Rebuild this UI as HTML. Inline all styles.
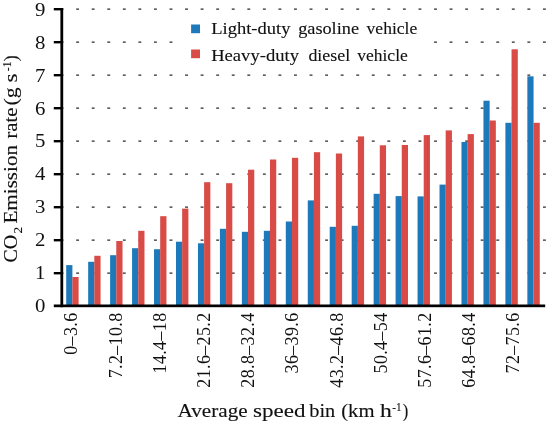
<!DOCTYPE html>
<html lang="en"><head><meta charset="utf-8"><title>CO2 emission rate by average speed bin</title>
<style>html,body{margin:0;padding:0;background:#fff}svg{display:block}text{font-family:"Liberation Serif",serif;fill:#111}.b text{stroke:#111;stroke-width:.12px}</style></head><body>
<svg width="550" height="428" viewBox="0 0 550 428">
<rect width="550" height="428" fill="#fff"/>
<g stroke="#2a2a2a" stroke-width="1.25" stroke-dasharray="2.9 12.66">
<line x1="60.6" y1="273.1" x2="546.5" y2="273.1"/>
<line x1="60.6" y1="240.1" x2="546.5" y2="240.1"/>
<line x1="60.6" y1="207.1" x2="546.5" y2="207.1"/>
<line x1="60.6" y1="174.1" x2="546.5" y2="174.1"/>
<line x1="60.6" y1="141.1" x2="546.5" y2="141.1"/>
<line x1="60.6" y1="108.1" x2="546.5" y2="108.1"/>
<line x1="60.6" y1="75.1" x2="546.5" y2="75.1"/>
<line x1="60.6" y1="42.1" x2="546.5" y2="42.1"/>
<line x1="60.6" y1="9.1" x2="546.5" y2="9.1"/>
</g>
<rect x="178" y="18" width="251" height="50" fill="#fff"/>
<g fill="#1d79b9">
<rect x="66.20" y="265.1" width="6.2" height="40.9"/>
<rect x="88.16" y="261.8" width="6.2" height="44.2"/>
<rect x="110.12" y="255.2" width="6.2" height="50.8"/>
<rect x="132.08" y="248.2" width="6.2" height="57.8"/>
<rect x="154.04" y="249.2" width="6.2" height="56.8"/>
<rect x="176.00" y="241.7" width="6.2" height="64.3"/>
<rect x="197.96" y="243.3" width="6.2" height="62.7"/>
<rect x="219.92" y="228.8" width="6.2" height="77.2"/>
<rect x="241.88" y="231.8" width="6.2" height="74.2"/>
<rect x="263.84" y="230.8" width="6.2" height="75.2"/>
<rect x="285.80" y="221.5" width="6.2" height="84.5"/>
<rect x="307.76" y="200.4" width="6.2" height="105.6"/>
<rect x="329.72" y="226.8" width="6.2" height="79.2"/>
<rect x="351.68" y="225.8" width="6.2" height="80.2"/>
<rect x="373.64" y="193.8" width="6.2" height="112.2"/>
<rect x="395.60" y="196.1" width="6.2" height="109.9"/>
<rect x="417.56" y="196.4" width="6.2" height="109.6"/>
<rect x="439.52" y="184.6" width="6.2" height="121.4"/>
<rect x="461.48" y="142.0" width="6.2" height="164.0"/>
<rect x="483.44" y="100.7" width="6.2" height="205.3"/>
<rect x="505.40" y="122.8" width="6.2" height="183.2"/>
<rect x="527.36" y="76.3" width="6.2" height="229.7"/>
</g>
<g fill="#d84b47">
<rect x="72.35" y="277.0" width="6.25" height="29.0"/>
<rect x="94.31" y="255.8" width="6.25" height="50.2"/>
<rect x="116.27" y="241.0" width="6.25" height="65.0"/>
<rect x="138.23" y="230.8" width="6.25" height="75.2"/>
<rect x="160.19" y="216.2" width="6.25" height="89.8"/>
<rect x="182.15" y="208.6" width="6.25" height="97.4"/>
<rect x="204.11" y="182.2" width="6.25" height="123.8"/>
<rect x="226.07" y="183.2" width="6.25" height="122.8"/>
<rect x="248.03" y="169.7" width="6.25" height="136.3"/>
<rect x="269.99" y="159.5" width="6.25" height="146.5"/>
<rect x="291.95" y="157.8" width="6.25" height="148.2"/>
<rect x="313.91" y="152.2" width="6.25" height="153.8"/>
<rect x="335.87" y="153.5" width="6.25" height="152.5"/>
<rect x="357.83" y="136.4" width="6.25" height="169.6"/>
<rect x="379.79" y="145.3" width="6.25" height="160.7"/>
<rect x="401.75" y="145.0" width="6.25" height="161.0"/>
<rect x="423.71" y="135.1" width="6.25" height="170.9"/>
<rect x="445.67" y="130.4" width="6.25" height="175.6"/>
<rect x="467.63" y="134.1" width="6.25" height="171.9"/>
<rect x="489.59" y="120.5" width="6.25" height="185.5"/>
<rect x="511.55" y="49.3" width="6.25" height="256.7"/>
<rect x="533.51" y="122.8" width="6.25" height="183.2"/>
</g>
<rect x="427.25" y="135.5" width="0.75" height="137" fill="#5f62b0" opacity="0.9"/>
<g fill="#000">
<rect x="60.4" y="8" width="2.8" height="299.2"/>
<rect x="53.8" y="304.5" width="491.4" height="2.7"/>
<rect x="53.8" y="272.0" width="8" height="2.4"/>
<rect x="53.8" y="239.0" width="8" height="2.4"/>
<rect x="53.8" y="206.0" width="8" height="2.4"/>
<rect x="53.8" y="173.0" width="8" height="2.4"/>
<rect x="53.8" y="140.0" width="8" height="2.4"/>
<rect x="53.8" y="107.0" width="8" height="2.4"/>
<rect x="53.8" y="74.0" width="8" height="2.4"/>
<rect x="53.8" y="41.0" width="8" height="2.4"/>
<rect x="53.8" y="8.0" width="8" height="2.4"/>
</g>
<g font-size="19">
<text x="35.1" y="311.6" textLength="10.4" lengthAdjust="spacingAndGlyphs">0</text>
<text x="35.1" y="278.8" textLength="10.4" lengthAdjust="spacingAndGlyphs">1</text>
<text x="35.1" y="245.9" textLength="10.4" lengthAdjust="spacingAndGlyphs">2</text>
<text x="35.1" y="213.1" textLength="10.4" lengthAdjust="spacingAndGlyphs">3</text>
<text x="35.1" y="180.2" textLength="10.4" lengthAdjust="spacingAndGlyphs">4</text>
<text x="35.1" y="147.4" textLength="10.4" lengthAdjust="spacingAndGlyphs">5</text>
<text x="35.1" y="114.5" textLength="10.4" lengthAdjust="spacingAndGlyphs">6</text>
<text x="35.1" y="81.7" textLength="10.4" lengthAdjust="spacingAndGlyphs">7</text>
<text x="35.1" y="48.8" textLength="10.4" lengthAdjust="spacingAndGlyphs">8</text>
<text x="35.1" y="15.9" textLength="10.4" lengthAdjust="spacingAndGlyphs">9</text>
</g>
<g font-size="18" text-anchor="end" letter-spacing="0.35">
<text transform="translate(77.4,312.5) rotate(-90)">0–3.6</text>
<text transform="translate(121.6,312.5) rotate(-90)">7.2–10.8</text>
<text transform="translate(165.8,312.5) rotate(-90)">14.4–18</text>
<text transform="translate(210.0,312.5) rotate(-90)">21.6–25.2</text>
<text transform="translate(254.2,312.5) rotate(-90)">28.8–32.4</text>
<text transform="translate(298.4,312.5) rotate(-90)">36–39.6</text>
<text transform="translate(342.6,312.5) rotate(-90)">43.2–46.8</text>
<text transform="translate(386.8,312.5) rotate(-90)">50.4–54</text>
<text transform="translate(431.0,312.5) rotate(-90)">57.6–61.2</text>
<text transform="translate(475.2,312.5) rotate(-90)">64.8–68.4</text>
<text transform="translate(519.4,312.5) rotate(-90)">72–75.6</text>
</g>
<rect x="191.1" y="24.5" width="8.9" height="8.7" fill="#1d79b9"/>
<rect x="191.1" y="49.5" width="8.9" height="8.7" fill="#d84b47"/>
<g font-size="16.8" class="b">
<text x="211.2" y="33.9" textLength="79.2" lengthAdjust="spacingAndGlyphs">Light-duty</text>
<text x="298.2" y="33.9" textLength="60.8" lengthAdjust="spacingAndGlyphs">gasoline</text>
<text x="366.6" y="33.9" textLength="50.6" lengthAdjust="spacingAndGlyphs">vehicle</text>
<text x="211.2" y="60.7" textLength="87.8" lengthAdjust="spacingAndGlyphs">Heavy-duty</text>
<text x="308.4" y="60.7" textLength="41.8" lengthAdjust="spacingAndGlyphs">diesel</text>
<text x="357.2" y="60.7" textLength="50.6" lengthAdjust="spacingAndGlyphs">vehicle</text>
</g>
<g font-size="18" class="b">
<text x="177.6" y="416.7" textLength="70.0" lengthAdjust="spacingAndGlyphs">Average</text>
<text x="253.0" y="416.7" textLength="52.4" lengthAdjust="spacingAndGlyphs">speed</text>
<text x="309.3" y="416.7" textLength="26.0" lengthAdjust="spacingAndGlyphs">bin</text>
<text x="341.2" y="416.7" textLength="33.3" lengthAdjust="spacingAndGlyphs">(km</text>
<text x="380.0" y="416.7" textLength="11.8" lengthAdjust="spacingAndGlyphs">h</text>
<text x="392.2" y="411.1" font-size="11.5" textLength="9.4" lengthAdjust="spacingAndGlyphs">-1</text>
<text x="402.7" y="416.7" textLength="5.5" lengthAdjust="spacingAndGlyphs">)</text>
</g>
<g font-size="18" class="b" transform="translate(16.7,262.6) rotate(-90)">
<text x="0.0" y="0.0" textLength="27.8" lengthAdjust="spacingAndGlyphs">CO</text>
<text x="29.0" y="5.2" font-size="11.5" textLength="6.6" lengthAdjust="spacingAndGlyphs">2</text>
<text x="39.0" y="0.0" textLength="78.7" lengthAdjust="spacingAndGlyphs">Emission</text>
<text x="124.0" y="0.0" textLength="30.9" lengthAdjust="spacingAndGlyphs">rate</text>
<text x="157.0" y="0.0" textLength="18.2" lengthAdjust="spacingAndGlyphs">(g</text>
<text x="180.2" y="0.0" textLength="9.0" lengthAdjust="spacingAndGlyphs">s</text>
<text x="191.4" y="-5.6" font-size="11.5" textLength="9.8" lengthAdjust="spacingAndGlyphs">-1</text>
<text x="201.4" y="0.0" textLength="5.9" lengthAdjust="spacingAndGlyphs">)</text>
</g>
</svg></body></html>
